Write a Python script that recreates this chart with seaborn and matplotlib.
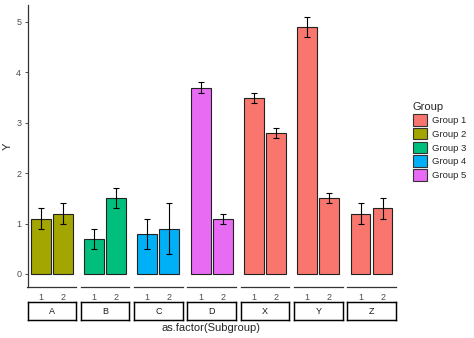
import matplotlib
matplotlib.use("Agg")
import matplotlib.pyplot as plt
import matplotlib.patches as mpatches
import seaborn as sns
import pandas as pd

facets = ["A", "B", "C", "D", "X", "Y", "Z"]
facet_groups = ["Group 2", "Group 3", "Group 4", "Group 5", "Group 1", "Group 1", "Group 1"]
sub1_vals = [1.1, 0.7, 0.8, 3.7, 3.5, 4.9, 1.2]
sub2_vals = [1.2, 1.5, 0.9, 1.1, 2.8, 1.5, 1.3]
sub1_err = [0.2, 0.2, 0.3, 0.1, 0.1, 0.2, 0.2]
sub2_err = [0.2, 0.2, 0.5, 0.1, 0.1, 0.1, 0.2]
groups = ["Group 1", "Group 2", "Group 3", "Group 4", "Group 5"]
group_colors = ["#F8766D", "#A3A500", "#00BF7D", "#00B0F6", "#E76BF3"]
subgroups = ["1", "2"]
y_ticks = [0, 1, 2, 3, 4, 5]

rows = []
for f, g, v1, v2, e1, e2 in zip(facets, facet_groups, sub1_vals, sub2_vals, sub1_err, sub2_err):
    rows.append(dict(Facet=f, Group=g, Subgroup=subgroups[0], Y=v1, err=e1))
    rows.append(dict(Facet=f, Group=g, Subgroup=subgroups[1], Y=v2, err=e2))
df = pd.DataFrame(rows)
cmap = dict(zip(groups, group_colors))

sns.set_style("white")
plt.rcParams['font.family'] = ['Liberation Sans', 'DejaVu Sans']

W, H = 474, 338
fig = plt.figure(figsize=(W / 100, H / 100), dpi=100)

def fx(px):
    return px / W

def fy(py):
    return 1 - py / H

panel_left0 = 27.5
panel_w = 48.5
panel_step = 53.3
top_px, bot_px = 5, 287
tick_col = "#4d4d4d"

for i, f in enumerate(facets):
    left = panel_left0 + i * panel_step
    ax = fig.add_axes([fx(left), fy(bot_px), fx(panel_w), (bot_px - top_px) / H])
    sub = df[df.Facet == f]
    sns.barplot(data=sub, x="Subgroup", y="Y", color=cmap[sub.Group.iloc[0]],
                edgecolor="#222222", linewidth=0.8, width=0.9, saturation=1,
                errorbar=None, ax=ax, order=subgroups)
    ax.errorbar(range(len(sub)), sub.Y.values, yerr=sub.err.values, fmt="none",
                ecolor="black", elinewidth=0.8, capsize=2, capthick=0.8, zorder=5)
    ax.set_xlim(-0.6, 1.6)
    ax.set_ylim(-0.258, 5.337)
    ax.set_xlabel("")
    ax.set_ylabel("")
    for s in ["top", "right"]:
        ax.spines[s].set_visible(False)
    ax.spines["bottom"].set_color("#333333")
    ax.spines["bottom"].set_linewidth(0.9)
    ax.tick_params(axis="x", length=2.5, width=0.6, color="#333333", labelsize=6.5,
                   labelcolor=tick_col, pad=1.5)
    if i == 0:
        ax.spines["left"].set_color("#333333")
        ax.spines["left"].set_linewidth(0.9)
        ax.set_yticks(y_ticks)
        ax.tick_params(axis="y", length=2.5, width=0.6, color="#333333", labelsize=6.5,
                       labelcolor=tick_col, pad=2, left=True)
    else:
        ax.spines["left"].set_visible(False)
        ax.set_yticks([])
    # strip
    sax = fig.add_axes([fx(left), fy(320), fx(panel_w), 18 / H])
    sax.set_xticks([])
    sax.set_yticks([])
    for s in sax.spines.values():
        s.set_linewidth(1.05)
        s.set_color("black")
    sax.text(0.5, 0.5, f, ha="center", va="center", fontsize=6.5, color="#1a1a1a",
             transform=sax.transAxes)

fig.text(fx(8), fy(146), "Y", ha="center", va="center", fontsize=8, rotation=90)
fig.text(fx(211), fy(328), "as.factor(Subgroup)", ha="center", va="center", fontsize=8)

handles = [mpatches.Patch(facecolor=c, edgecolor="#333333", linewidth=0.8, label=g)
           for g, c in zip(groups, group_colors)]
leg = fig.legend(handles=handles, title="Group", loc="upper left",
                 bbox_to_anchor=(fx(406), fy(95)), frameon=False, fontsize=6.8,
                 title_fontsize=8, handlelength=1.5, handleheight=1.55,
                 handletextpad=0.6, labelspacing=0.22, borderpad=0.2)
leg._legend_box.align = "left"

fig.savefig("out.png", dpi=100)
